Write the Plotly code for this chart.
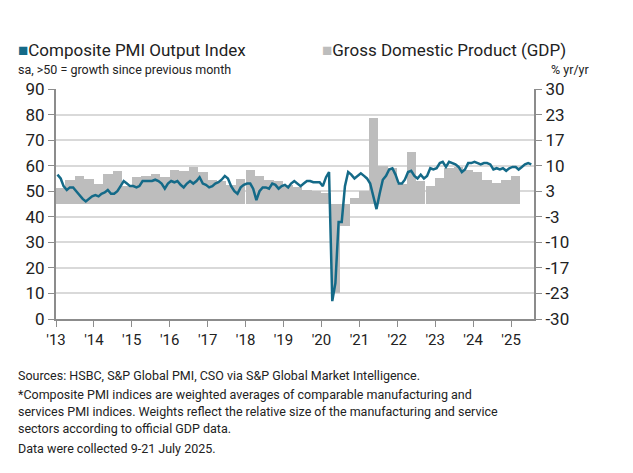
import pandas as pd
import plotly.graph_objects as go

# Composite PMI, monthly from Jan 2013
pmi_values = [
    56.5, 55, 52, 50.5, 51.5, 51.5, 50, 48.5, 47, 46, 47, 48,          # 2013
    48.5, 48, 49, 49.5, 50.5, 49, 49, 50, 52, 54, 53, 52,              # 2014
    52, 51.5, 52, 54, 54, 54, 54, 54.5, 54, 53, 51, 53,                # 2015
    54, 53.5, 54, 52.5, 51.5, 53, 54, 53, 54, 55.5, 53, 52.5,          # 2016
    51.5, 52, 53, 53.5, 54.5, 56, 55, 52, 50, 49, 51.5, 52.5,          # 2017
    53, 53, 51, 46.5, 50, 51.5, 51.5, 51, 53, 52.5, 51, 52,            # 2018
    52.5, 51.5, 53, 54, 53, 52, 53, 54, 54, 53.5, 53.5, 53.5,          # 2019
    52, 55.5, 57.5, 7, 14, 38, 38, 52, 57.5, 56.5, 55, 56,             # 2020
    57, 56, 55, 53, 48, 43, 49, 54.5, 56, 58.5, 59, 56.5,              # 2021
    53, 53, 54.5, 57.5, 58, 56, 55, 56.5, 55, 56, 59, 58.5,            # 2022
    59, 61, 61.5, 59.5, 61.5, 61, 60.5, 59.5, 57.5, 58.5, 61, 61,      # 2023
    61.5, 61, 60.5, 61, 61, 60.5, 58.5, 59, 58.5, 59, 58, 59,          # 2024
    59.5, 59.5, 58.5, 59.5, 60.5, 61, 60.5,                            # 2025
]
pmi_dates = pd.date_range("2013-01-01", periods=len(pmi_values), freq="MS") + pd.Timedelta(days=14)

# GDP % yr/yr, quarterly from Q1 2013
gdp_values = [
    4.2, 6.3, 7.2, 6.5, 5.2, 7.8, 8.5, 4.6,
    7.0, 7.4, 7.8, 7.0, 9.0, 8.7, 9.6, 8.4,
    6.2, 5.9, 5.0, 6.6, 8.8, 7.4, 6.3, 5.9,
    5.0, 4.4, 3.7, 3.3, 2.9, -23.2, -5.8, 1.6,
    3.3, 22.4, 10.0, 9.5, 5.3, 13.5, 5.9, 4.8,
    6.7, 9.4, 9.7, 8.8, 8.3, 6.3, 5.5, 6.3, 7.4,
]
gdp_dates = pd.date_range("2013-01-01", periods=len(gdp_values), freq="QS") + pd.Timedelta(days=45)

year_ticks = pd.date_range("2013-01-01", "2025-01-01", freq="YS")
year_labels = ["'" + str(d.year)[2:] for d in year_ticks]
right_ticks = [-30, -23.33, -16.67, -10, -3.33, 3.33, 10, 16.67, 23.33, 30]
right_labels = ["-30", "-23", "-17", "-10", "-3", "3", "10", "17", "23", "30"]

font = "Roboto"
blue = "#146a88"
grey = "#bdbdbd"
axis_grey = "#8c8c8c"
W, H = 633, 473
L, R, T, B = 48, 107, 81, 162

# GDP is plotted against the left scale: 0% sits at 45, 1 pt = 1.5 left units
gdp_scaled = [v * 1.5 for v in gdp_values]

fig = go.Figure()
fig.add_trace(go.Bar(x=gdp_dates, y=gdp_scaled, base=45, marker_color=grey,
                     marker_line_width=0, width=91 * 24 * 3600 * 1000, showlegend=False,
                     customdata=gdp_values, hovertemplate="%{customdata}%<extra></extra>"))
fig.add_trace(go.Scatter(x=pmi_dates, y=pmi_values, mode="lines",
                         line=dict(color=blue, width=2.5), showlegend=False))
# invisible trace so the right axis is drawn
fig.add_trace(go.Scatter(x=[gdp_dates[0]], y=[0], yaxis="y2", mode="markers",
                         marker=dict(opacity=0), showlegend=False, hoverinfo="skip"))

fig.update_layout(
    width=W, height=H,
    margin=dict(l=L, r=R, t=T, b=B),
    paper_bgcolor="white", plot_bgcolor="white",
    font=dict(family=font, color="#222", size=16),
    xaxis=dict(range=["2013-01-01", "2025-08-10"], tickvals=year_ticks, ticktext=year_labels,
               showgrid=False, ticks="outside", ticklen=6, tickcolor=axis_grey,
               showline=True, linecolor=axis_grey, linewidth=2, tickfont=dict(size=15)),
    yaxis=dict(range=[0, 90], dtick=10, showgrid=True, gridcolor="#d9d9d9", gridwidth=2,
               ticks="outside", ticklen=6, tickcolor=axis_grey, zeroline=False,
               showline=True, linecolor=axis_grey, linewidth=2, tickfont=dict(size=17)),
    yaxis2=dict(range=[-30, 30], tickvals=right_ticks, ticktext=right_labels, overlaying="y",
                side="right", showgrid=False, zeroline=False, ticks="outside", ticklen=6,
                tickcolor=axis_grey, showline=True, linecolor=axis_grey, linewidth=2,
                tickfont=dict(size=17)),
    bargap=0,
)

ann = [
    (8, 42, "<span style='color:%s'>■</span>Composite PMI Output Index" % blue, 17, "left"),
    (312, 42, "<span style='color:%s'>■</span>Gross Domestic Product (GDP)" % grey, 17, "left"),
    (8, 61, "sa, >50 = growth since previous month", 12.5, "left"),
    (583, 61, "% yr/yr", 12.5, "right"),
    (8, 367, "Sources: HSBC, S&P Global PMI, CSO via S&P Global Market Intelligence.", 12.5, "left"),
    (8, 386, "*Composite PMI indices are weighted averages of comparable manufacturing and", 12.5, "left"),
    (8, 403, "services PMI indices. Weights reflect the relative size of the manufacturing and service", 12.5, "left"),
    (8, 420, "sectors according to official GDP data.", 12.5, "left"),
    (8, 441, "Data were collected 9-21 July 2025.", 12.5, "left"),
]
for px, py, t, s, a in ann:
    fig.add_annotation(x=(px - L) / (W - L - R), y=(H - B - py) / (H - T - B),
                       xref="paper", yref="paper", text=t, showarrow=False,
                       xanchor=a, yanchor="middle",
                       font=dict(size=s, family=font, color="#222"))

fig.write_html("out.html")
